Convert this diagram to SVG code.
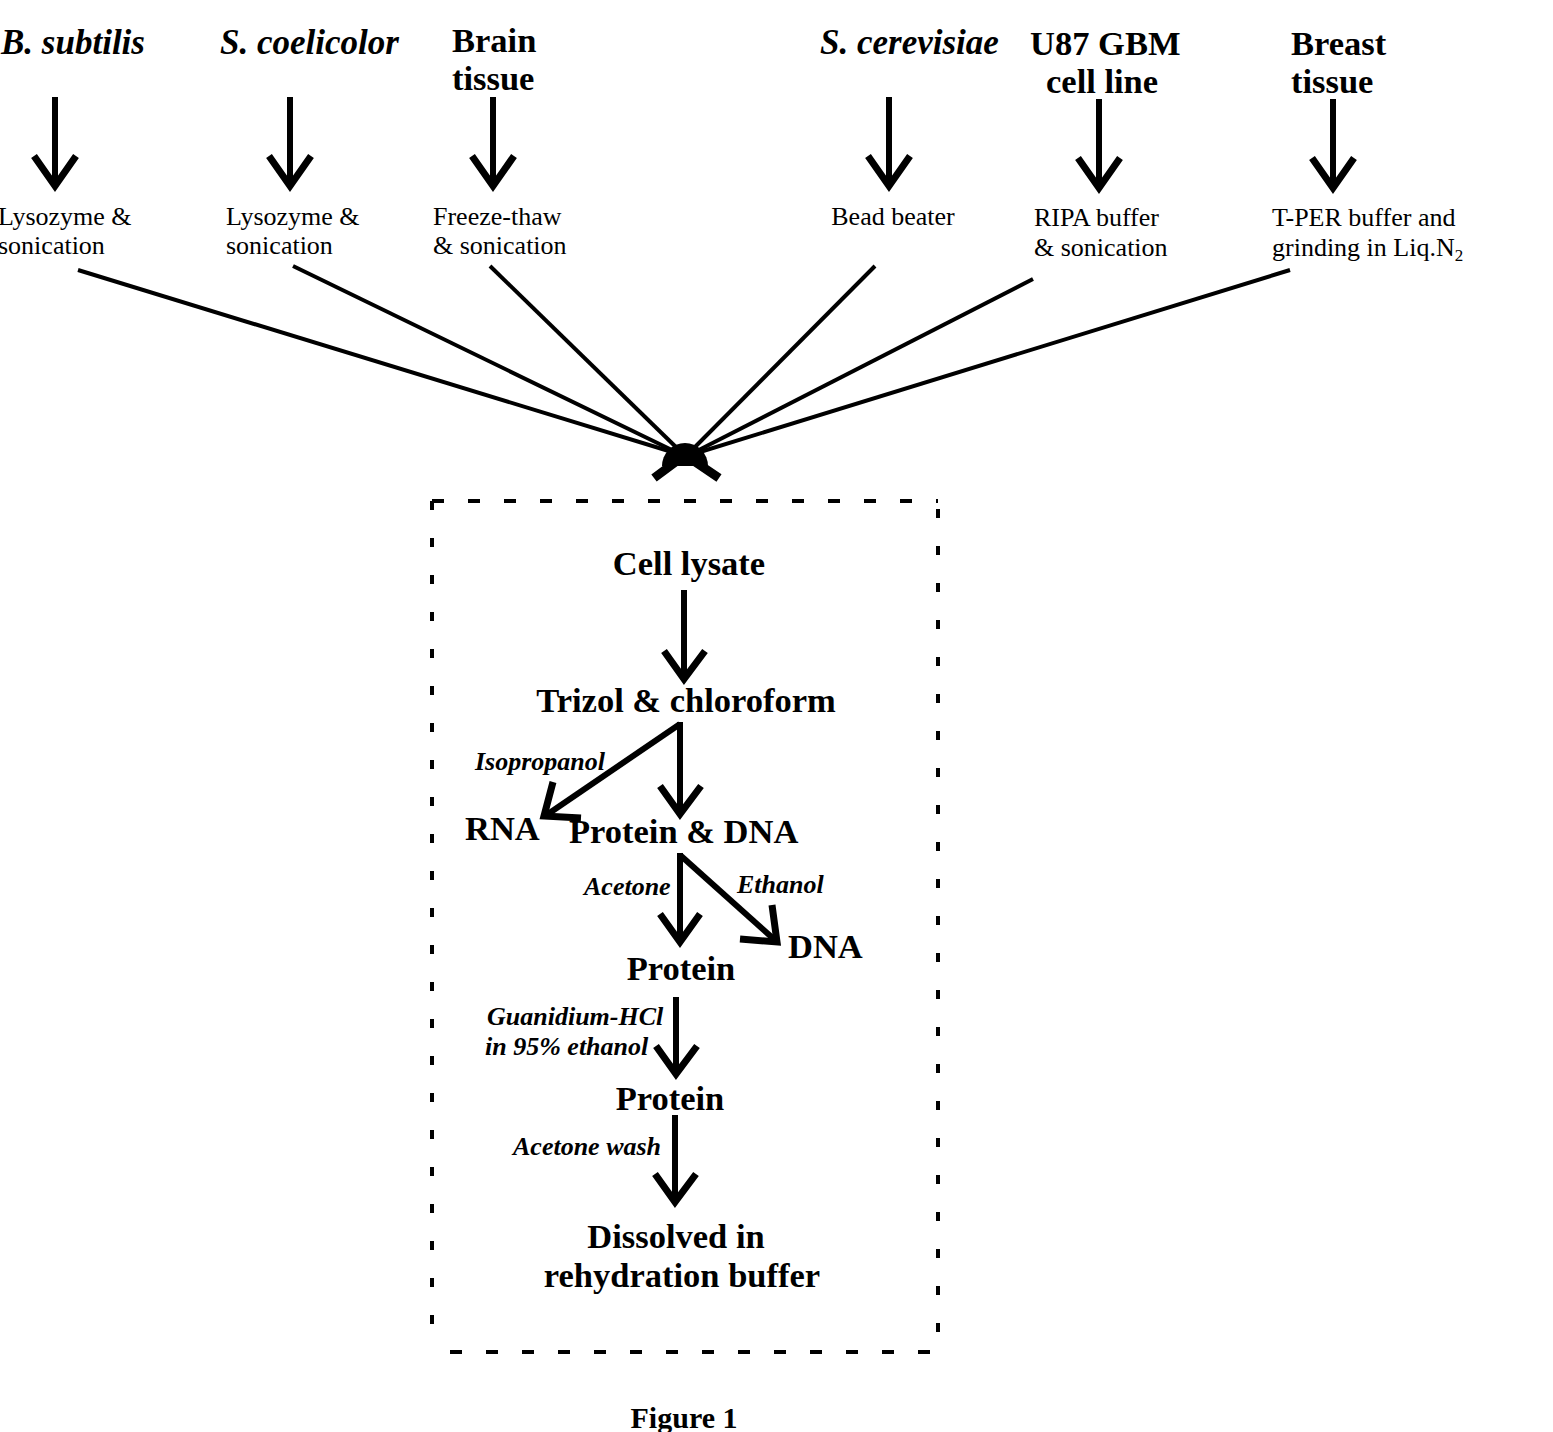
<svg xmlns="http://www.w3.org/2000/svg" width="1553" height="1432" viewBox="0 0 1553 1432">
<style>
text{font-family:"Liberation Serif","Times New Roman",serif;fill:#000}
.h{font-size:34.5px;font-weight:bold}
.hi{font-size:35px;font-weight:bold;font-style:italic}
.s{font-size:26px}
.m{font-size:34.5px;font-weight:bold}
.l{font-size:26px;font-weight:bold;font-style:italic}
.shaft{stroke:#000;stroke-width:6;fill:none}
.head{stroke:#000;stroke-width:7;fill:none;stroke-linejoin:miter;stroke-miterlimit:10}
.conv{stroke:#000;stroke-width:4;fill:none}
.box{stroke:#000;stroke-width:4;fill:none}
</style>
<defs>
<clipPath id="cr"><rect x="0" y="0" width="1466" height="1432"/></clipPath>
</defs>
<rect width="1553" height="1432" fill="#fff"/>

<g id="src-bsubtilis">
<text class="hi" x="1" y="54">B. subtilis</text>
<text class="s" x="-2" y="225">Lysozyme &amp;</text>
<text class="s" x="-2" y="254">sonication</text>
</g>
<g id="src-scoelicolor">
<text class="hi" x="220" y="54">S. coelicolor</text>
<text class="s" x="226" y="225">Lysozyme &amp;</text>
<text class="s" x="226" y="254">sonication</text>
</g>
<g id="src-brain">
<text class="h" x="452" y="52">Brain</text>
<text class="h" x="452" y="90">tissue</text>
<text class="s" x="433" y="225">Freeze-thaw</text>
<text class="s" x="433" y="254">&amp; sonication</text>
</g>
<g id="src-scerevisiae">
<text class="hi" x="820" y="54">S. cerevisiae</text>
<text class="s" x="893" y="225" text-anchor="middle">Bead beater</text>
</g>
<g id="src-u87">
<text class="h" x="1030" y="55">U87 GBM</text>
<text class="h" x="1046" y="93">cell line</text>
<text class="s" x="1034" y="226">RIPA buffer</text>
<text class="s" x="1034" y="256">&amp; sonication</text>
</g>
<g id="src-breast" clip-path="url(#cr)">
<text class="h" x="1291" y="55">Breast</text>
<text class="h" x="1291" y="93">tissue</text>
<text class="s" x="1272" y="226">T-PER buffer and</text>
<text class="s" x="1272" y="256">grinding in Liq.N<tspan font-size="17" dy="5">2</tspan></text>
</g>

<g id="box">
<path class="box" d="M432,501 H938" stroke-dasharray="12 24"/>
<path class="box" d="M432,1352 H938" stroke-dasharray="12 24" stroke-dashoffset="-18"/>
<path class="box" d="M432,501 V1340" stroke-dasharray="9 28"/>
<path class="box" d="M938,501 V1340" stroke-dasharray="9 28" stroke-dashoffset="-8"/>
</g>

<g id="n-lysate"><text class="m" x="689" y="575" text-anchor="middle">Cell lysate</text></g>
<g id="n-trizol"><text class="m" x="686" y="712" text-anchor="middle">Trizol &amp; chloroform</text></g>
<g id="n-rna"><text class="m" x="465" y="840">RNA</text></g>
<g id="n-protdna"><text class="m" x="569" y="843">Protein &amp; DNA</text></g>
<g id="n-dna"><text class="m" x="788" y="958">DNA</text></g>
<g id="n-protein1"><text class="m" x="681" y="980" text-anchor="middle">Protein</text></g>
<g id="n-protein2"><text class="m" x="670" y="1110" text-anchor="middle">Protein</text></g>
<g id="n-dissolved">
<text class="m" x="676" y="1248" text-anchor="middle">Dissolved in</text>
<text class="m" x="682" y="1287" text-anchor="middle">rehydration buffer</text>
</g>
<g id="caption"><text class="m" x="684" y="1428" text-anchor="middle" style="font-size:30px">Figure 1</text></g>

<g id="labels">
<text class="l" x="475" y="770">Isopropanol</text>
<text class="l" x="584" y="895">Acetone</text>
<text class="l" x="737" y="893">Ethanol</text>
<text class="l" x="487" y="1025">Guanidium-HCl</text>
<text class="l" x="485" y="1055">in 95% ethanol</text>
<text class="l" x="513" y="1155">Acetone wash</text>
</g>

<g id="connectors">
<line class="shaft" x1="55" y1="97" x2="55" y2="186"/>
<polyline class="head" points="34,156 55,186 76,156"/>
<line class="shaft" x1="290" y1="97" x2="290" y2="186"/>
<polyline class="head" points="269,156 290,186 311,156"/>
<line class="shaft" x1="493" y1="97" x2="493" y2="186"/>
<polyline class="head" points="472,156 493,186 514,156"/>
<line class="shaft" x1="889" y1="97" x2="889" y2="186"/>
<polyline class="head" points="868,156 889,186 910,156"/>
<line class="shaft" x1="1099" y1="99" x2="1099" y2="188"/>
<polyline class="head" points="1078,158 1099,188 1120,158"/>
<line class="shaft" x1="1333" y1="99" x2="1333" y2="188"/>
<polyline class="head" points="1312,158 1333,188 1354,158"/>

<line class="conv" x1="78" y1="270" x2="672" y2="452"/>
<line class="conv" x1="293" y1="266" x2="676" y2="452"/>
<line class="conv" x1="490" y1="266" x2="679" y2="450"/>
<line class="conv" x1="875" y1="266" x2="692" y2="450"/>
<line class="conv" x1="1033" y1="279" x2="695" y2="452"/>
<line class="conv" x1="1290" y1="270" x2="700" y2="452"/>
<path d="M662,466 A23,23 0 0 1 708,466 Z" fill="#000"/>
<polyline points="654,478 685,455 719,478" stroke="#000" stroke-width="9" fill="none" stroke-linejoin="miter"/>

<line class="shaft" x1="684" y1="590" x2="684" y2="678"/>
<polyline class="head" points="664,651 684,679 705,651"/>

<line class="shaft" x1="680" y1="722" x2="680" y2="813"/>
<polyline class="head" points="660,786 680,814 701,786"/>
<line class="shaft" x1="680" y1="724" x2="545" y2="816"/>
<polyline class="head" points="553,782 544,816 581,818"/>

<line class="shaft" x1="680" y1="853" x2="680" y2="941"/>
<polyline class="head" points="660,914 680,942 700,914"/>
<line class="shaft" x1="680" y1="855" x2="776" y2="941"/>
<polyline class="head" points="740,939 777,942 772,905"/>

<line class="shaft" x1="676" y1="997" x2="676" y2="1073"/>
<polyline class="head" points="656,1046 676,1074 697,1046"/>

<line class="shaft" x1="675" y1="1115" x2="675" y2="1201"/>
<polyline class="head" points="655,1174 675,1202 696,1174"/>
</g>
</svg>
